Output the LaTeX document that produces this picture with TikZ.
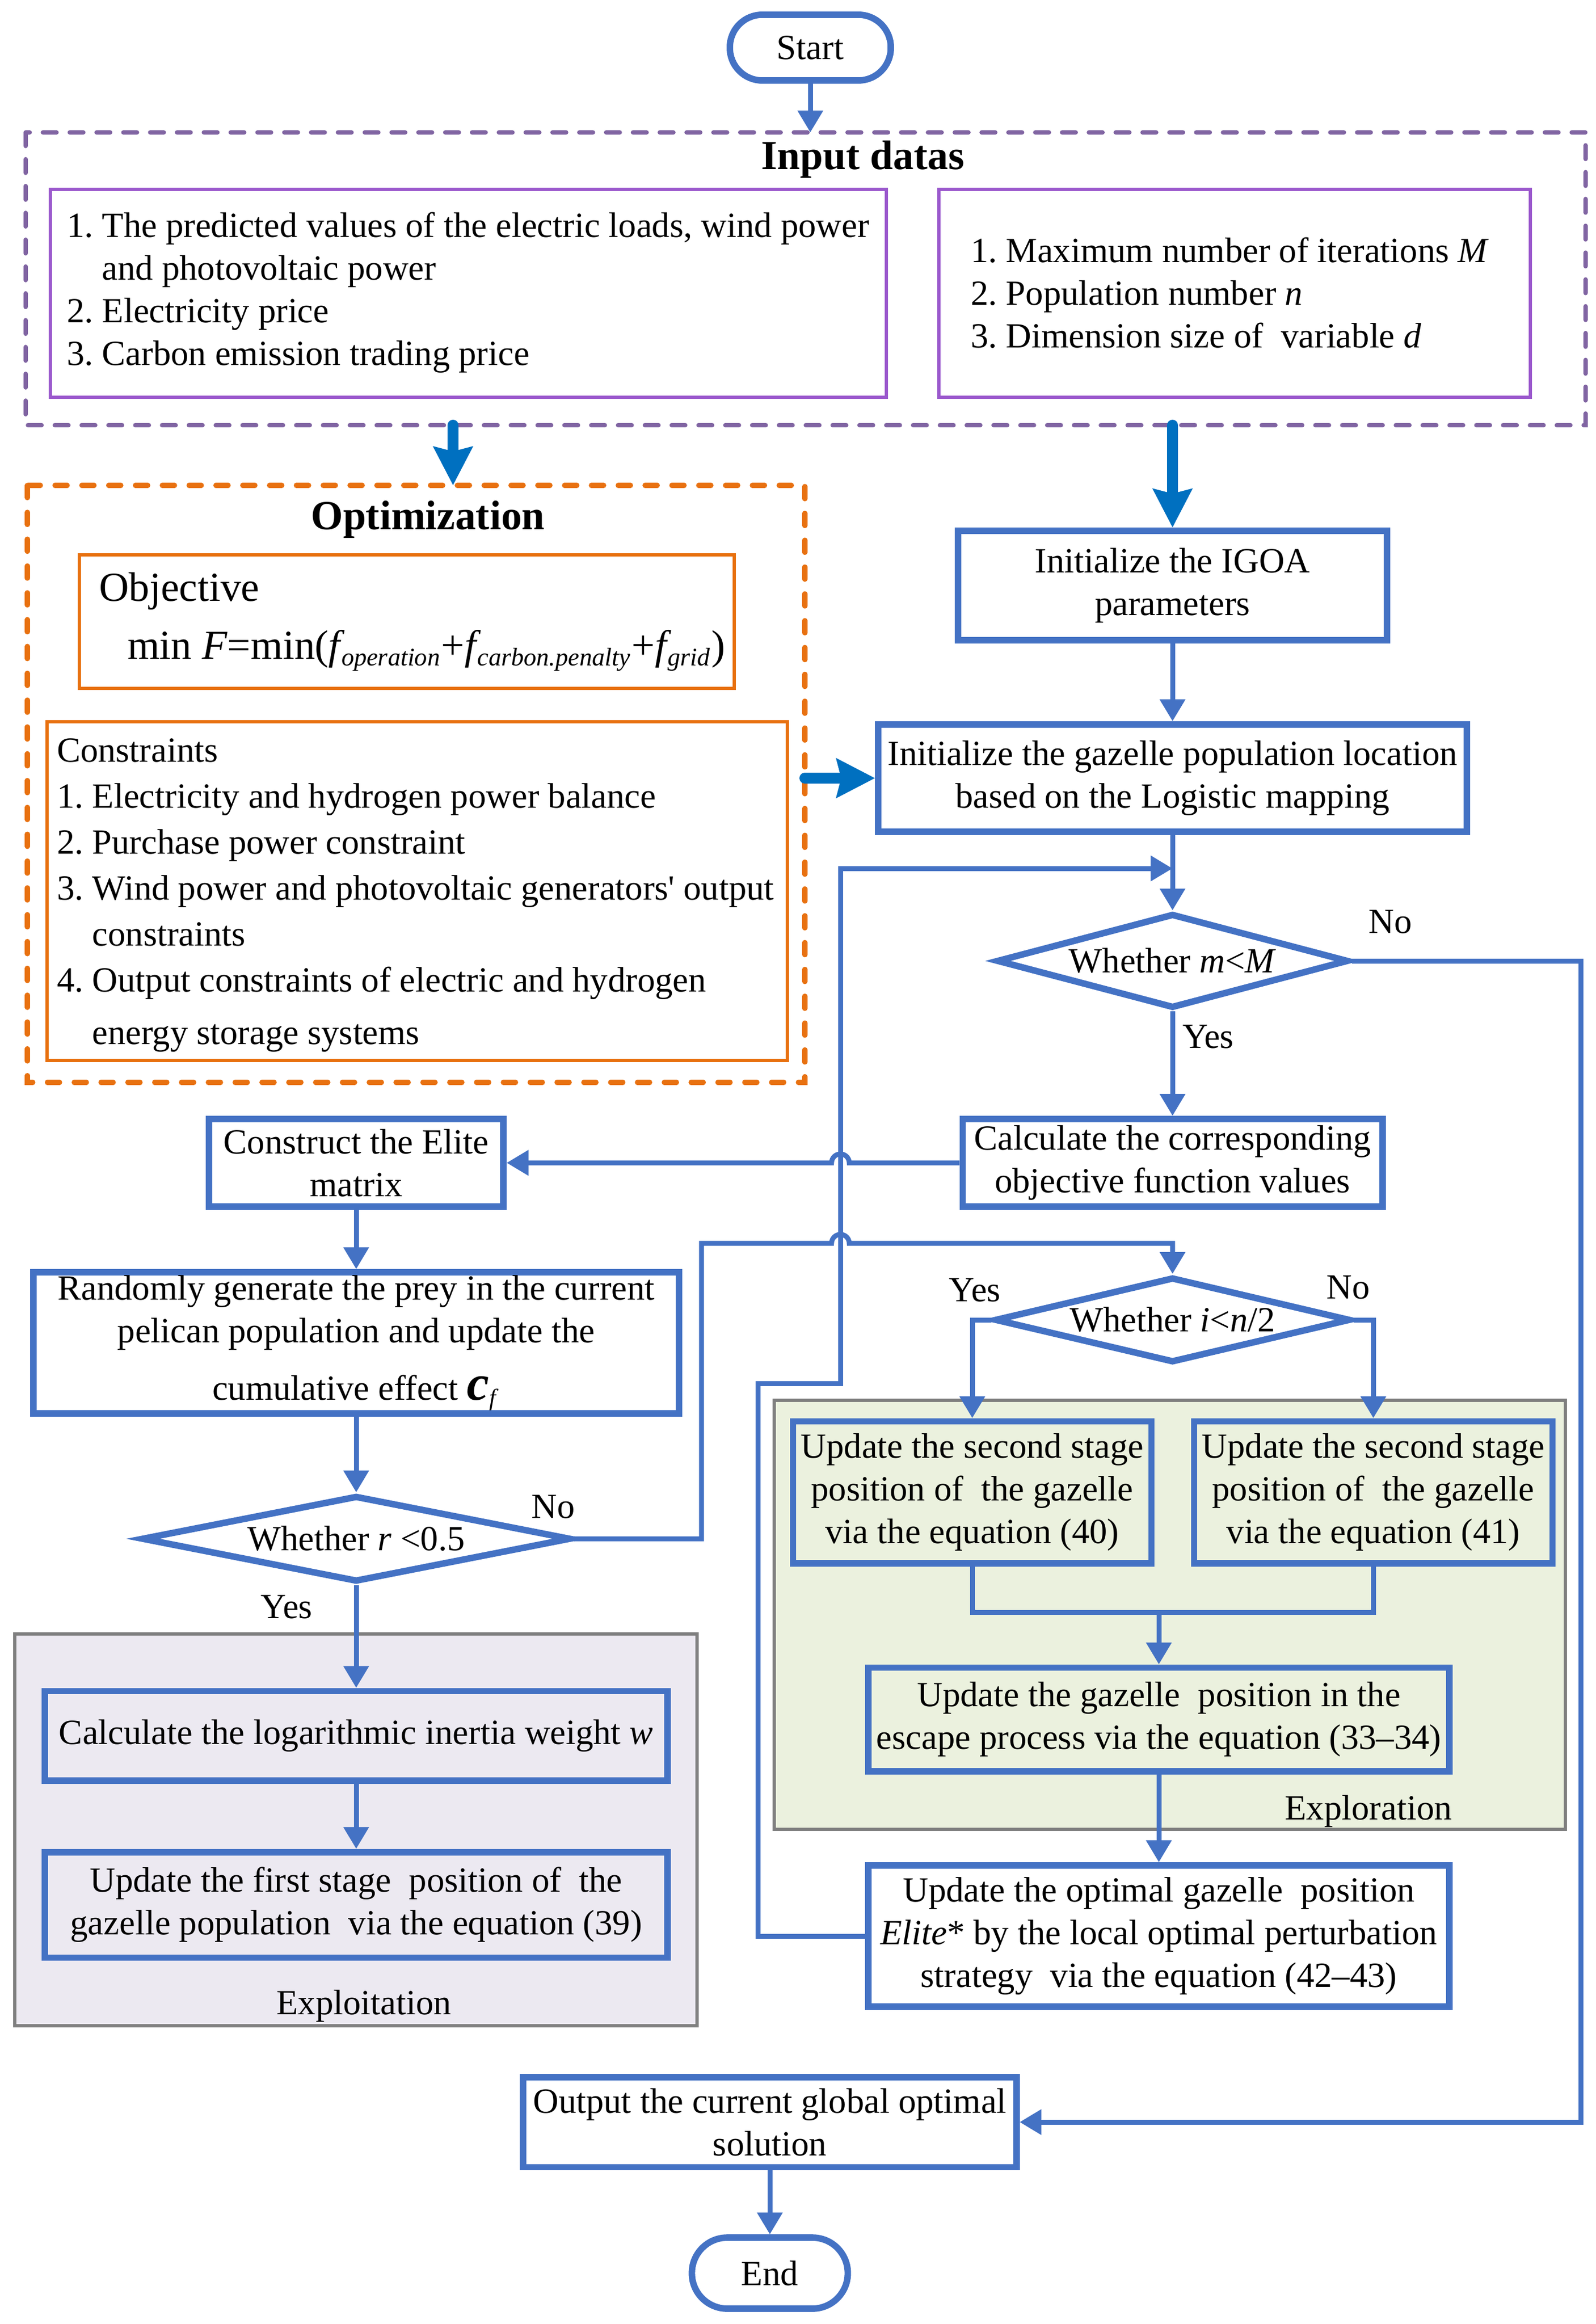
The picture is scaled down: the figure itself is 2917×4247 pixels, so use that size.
\documentclass[tikz,border=0pt]{standalone}
\usepackage{fontspec}
\setmainfont{Liberation Serif}
\usetikzlibrary{arrows.meta,shapes.geometric}
\frenchspacing

\definecolor{boxblue}{RGB}{68,114,196}
\definecolor{arrblue}{RGB}{0,112,192}
\definecolor{dashpurple}{RGB}{128,100,162}
\definecolor{linepurple}{RGB}{155,89,205}
\definecolor{optorange}{RGB}{232,113,16}
\definecolor{framegray}{RGB}{127,127,127}
\definecolor{exploitfill}{RGB}{236,233,241}
\definecolor{explorefill}{RGB}{235,241,222}

\newcommand{\fsub}[1]{\textit{f}\kern-1.2pt\textsubscript{\fontsize{8.6}{9}\selectfont\itshape #1}}

\begin{document}
\begin{tikzpicture}[x=0.18564pt,y=-0.18564pt,
    font=\fontsize{12}{14.5}\selectfont,
    proc/.style={rectangle,draw=boxblue,line width=2.2pt,align=center,inner sep=1pt},
    term/.style={proc,rounded corners=11pt},
    cond/.style={diamond,draw=boxblue,line width=2.2pt,inner sep=0pt,align=center},
    flow/.style={draw=boxblue,line width=1.67pt,-{Triangle[width=8.3pt,length=7.4pt]}},
    link/.style={draw=boxblue,line width=1.67pt},
    bigflow/.style={draw=arrblue,line width=3.7pt,line cap=round,-{Stealth[width=13pt,length=13pt,inset=1.5pt]}},
    title/.style={inner sep=0pt,font=\fontsize{14}{17}\selectfont\bfseries},
    list/.style={anchor=west,align=left,inner sep=0pt},
    tag/.style={inner sep=0pt}]
\useasboundingbox (0,0) rectangle (2917,4247);

% groups and frames
\draw[framegray,line width=1.1pt,fill=exploitfill] (27,2986) rectangle (1274,3702);
\draw[framegray,line width=1.1pt,fill=explorefill] (1415,2559) rectangle (2861,3343);
\draw[dashpurple,line width=1.5pt,line cap=round,dash pattern=on 4.6pt off 4.5pt] (47,242) rectangle (2898,777);
\draw[optorange,line width=1.7pt,line cap=round,dash pattern=on 4.2pt off 4.9pt] (50,887) rectangle (1471,1978);
\draw[linepurple,line width=1.1pt] (92,346) rectangle (1620,726);
\draw[linepurple,line width=1.1pt] (1716,346) rectangle (2797,726);
\draw[optorange,line width=1.2pt] (145,1014) rectangle (1342,1258);
\draw[optorange,line width=1.2pt] (86,1319) rectangle (1439,1938);

% texts of the input and optimization parts
\node[title] (intitle) at (1577,291) {Input datas};
\node[list] (inleft) at (121,535) {1. The predicted values of the electric loads, wind power\\\phantom{1. }and photovoltaic power\\2. Electricity price\\3. Carbon emission trading price};
\node[list] (inright) at (1773,535) {1. Maximum number of iterations \textit{M}\\2. Population number \textit{n}\\3. Dimension size of~ variable \textit{d}};
\node[title] (opttitle) at (782,949) {Optimization};
\node[list,font=\fontsize{14}{17}\selectfont] (objname) at (180,1080) {Objective};
\node[list,font=\fontsize{14}{17}\selectfont] (objfun) at (232,1189) {min \textit{F}=min(\fsub{operation}+\fsub{carbon.penalty}+\fsub{grid})};
\node[list,font=\fontsize{12}{15.6}\selectfont] (cons) at (103,1636) {Constraints\\1. Electricity and hydrogen power balance\\2. Purchase power constraint\\3. Wind power and photovoltaic generators\textquotesingle{} output\\\phantom{3. }constraints\\4. Output constraints of electric and hydrogen\\[2.2pt]\phantom{4. }energy storage systems};

% flow chart
\node[term,minimum width=54.6pt,minimum height=22.3pt] (start) at (1481,87) {Start};
\node[proc,minimum width=145.4pt,minimum height=37.1pt] (igoa) at (2143,1070) {Initialize the IGOA\\parameters};
\node[proc,minimum width=199.6pt,minimum height=36.4pt] (gazinit) at (2143,1422) {Initialize the gazelle population location\\based on the Logistic mapping};
\node[cond,minimum width=119.4pt,minimum height=32.1pt,aspect=3.7] (whetherM) at (2143,1756) {Whether \textit{m}<\textit{M}};
\node[proc,minimum width=142.4pt,minimum height=29.7pt] (calcobj) at (2143,2125) {Calculate the corresponding\\objective function values};
\node[proc,minimum width=99.9pt,minimum height=29.7pt] (elite) at (651,2125) {Construct the Elite\\matrix};
\node[proc,minimum width=218.9pt,minimum height=47.7pt] (prey) at (651,2454) {Randomly generate the prey in the current\\pelican population and update the\\[5pt]cumulative effect {\fontsize{17}{17}\selectfont\bfseries\itshape c}\textsubscript{\textit{f}}};
\node[cond,minimum width=145.6pt,minimum height=29.3pt,aspect=4.9] (whetherR) at (651,2812) {Whether \textit{r} <0.5};
\node[proc,minimum width=211.4pt,minimum height=30.3pt] (logw) at (651,3172) {Calculate the logarithmic inertia weight \textit{w}};
\node[proc,minimum width=211.4pt,minimum height=35.8pt] (stage1) at (651,3481) {Update the first stage~ position of~ the\\gazelle population~ via the equation (39)};
\node[cond,minimum width=120.7pt,minimum height=29pt,aspect=4.1] (whetherI) at (2143,2412) {Whether \textit{i}<\textit{n}/2};
\node[proc,minimum width=121.6pt,minimum height=48.1pt] (stage40) at (1777,2727) {Update the second stage\\position of~ the gazelle\\via the equation (40)};
\node[proc,minimum width=121.6pt,minimum height=48.1pt] (stage41) at (2510,2727) {Update the second stage\\position of~ the gazelle\\via the equation (41)};
\node[proc,minimum width=197.2pt,minimum height=35.1pt] (escape) at (2118,3142) {Update the gazelle~ position in the\\escape process via the equation (33--34)};
\node[proc,minimum width=197.2pt,minimum height=47.9pt] (optimal) at (2118,3538) {Update the optimal gazelle~ position\\\textit{Elite}* by the local optimal perturbation\\strategy~ via the equation (42--43)};
\node[proc,minimum width=167.3pt,minimum height=30.6pt] (output) at (1407,3878) {Output the current global optimal\\solution};
\node[term,minimum width=52.9pt,minimum height=24.1pt,rounded corners=12pt] (end) at (1407,4154) {End};

\node[tag] (yesM) at (2208,1895) {Yes};
\node[tag] (noM) at (2541,1685) {No};
\node[tag] (noR) at (1011,2754) {No};
\node[tag] (yesR) at (524,2937) {Yes};
\node[tag] (yesI) at (1782,2358) {Yes};
\node[tag] (noI) at (2464,2353) {No};
\node[tag] (explore) at (2501,3310) {Exploration};
\node[tag] (exploit) at (665,3666) {Exploitation};

\coordinate (inTop) at (1481,242);
\coordinate (inL) at (828,777);
\coordinate (optN) at (828,887);
\coordinate (inR) at (2143,777);
\coordinate (optE) at (1471,1422);
\coordinate (turnM) at (2889,1756);
\coordinate (turnR) at (1282,2272);
\coordinate (loopA) at (1385,2528);
\coordinate (loopB) at (1536,1587);
\coordinate (merge) at (2118,2946);

\draw[flow] (start) -- (inTop);
\draw[bigflow] (inL) -- (optN);
\draw[bigflow] (inR) -- (igoa);
\draw[bigflow] (optE) -- (gazinit);
\draw[flow] (igoa) -- (gazinit);
\draw[flow] (gazinit) -- (whetherM);
\draw[flow] (whetherM) -- (calcobj);
\draw[flow] (whetherM) -- (turnM) |- (output);
\draw[flow] (calcobj) -- ([xshift=3pt]loopB |- calcobj) arc (0:180:3pt) -- (elite);
\draw[flow] (elite) -- (prey);
\draw[flow] (prey) -- (whetherR);
\draw[flow] (whetherR) -| (turnR) -- ([xshift=-3pt]loopB |- turnR) arc (180:0:3pt) -| (whetherI);
\draw[flow] (whetherR) -- (logw);
\draw[flow] (logw) -- (stage1);
\draw[flow] (whetherI) -| (stage40);
\draw[flow] (whetherI) -| (stage41);
\draw[link] (stage40) |- (merge) -| (stage41);
\draw[flow] (merge) -- (escape);
\draw[flow] (escape) -- (optimal);
\draw[flow] (optimal) -| (loopA) -| (loopB) -- (loopB -| whetherM.north);
\draw[flow] (output) -- (end);
\end{tikzpicture}
\end{document}
